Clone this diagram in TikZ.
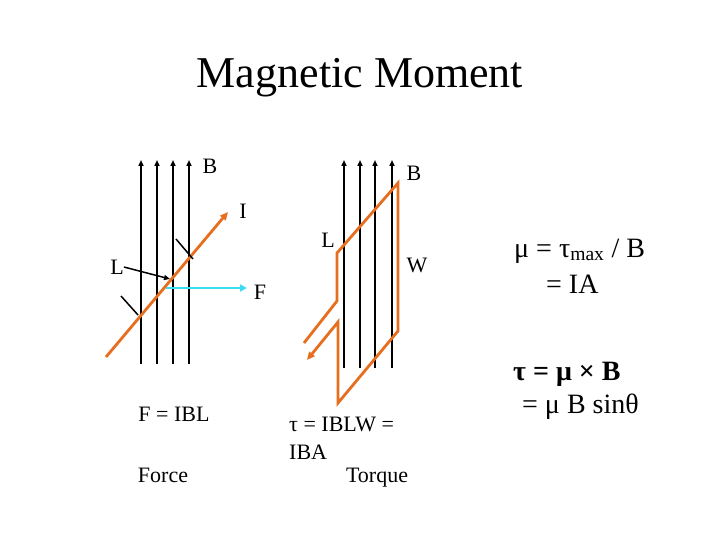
\documentclass[tikz,border=0pt]{standalone}
\usepackage{fontspec}
\setmainfont{Liberation Serif}
\usetikzlibrary{arrows.meta}
\definecolor{wire}{RGB}{230,110,30}
\definecolor{fcol}{RGB}{60,220,240}
\begin{document}
\begin{tikzpicture}[x=1pt,y=-1pt,
  fld/.style={line width=1.5pt,-{Triangle[length=6pt,width=5pt]}},
  wr/.style={wire,line width=2.8pt,line join=miter},
  lbl/.style={font=\fontsize{22}{24}\selectfont,inner sep=0pt},
  big/.style={font=\fontsize{28}{30}\selectfont,inner sep=0pt}]
\useasboundingbox (0,0) rectangle (720,540);
\node[font=\fontsize{44}{48}\selectfont] (title) at (360,78) {Magnetic Moment};
% left
\foreach \x/\n in {141/a,157/b,173/c,189/d}{
  \coordinate (l\n0) at (\x,364); \coordinate (l\n1) at (\x,160);
  \draw[fld] (l\n0) -- (l\n1);}
\coordinate (w0) at (106,357); \coordinate (w1) at (228,212);
\draw[wr,-{Triangle[length=8pt,width=7pt]}] (w0) -- (w1);
\coordinate (t1a) at (121,296); \coordinate (t1b) at (138,315);
\coordinate (t2a) at (176,239); \coordinate (t2b) at (193,259);
\draw[line width=1.5pt] (t1a) -- (t1b) (t2a) -- (t2b);
\node[lbl] (L1) at (117,267) {L};
\coordinate (Lt) at (170,279);
\draw[line width=1.5pt,-{Triangle[length=6pt,width=5pt]}] (L1.east) -- (Lt);
\coordinate (f0) at (166,288); \coordinate (f1) at (247,288);
\draw[fcol,line width=2.8pt,-{Triangle[length=7pt,width=7pt]}] (f0) -- (f1);
\node[lbl] (F) at (260,292) {F};
\node[lbl] (B1) at (210,166) {B};
\node[lbl] (I) at (243,211) {I};
% right
\foreach \x/\n in {344/a,360/b,375/c,392/d}{
  \coordinate (r\n0) at (\x,368); \coordinate (r\n1) at (\x,160);
  \draw[fld] (r\n0) -- (r\n1);}
\coordinate (p1) at (304,343); \coordinate (p2) at (337,301);
\coordinate (p3) at (337,253); \coordinate (p4) at (398,183);
\coordinate (p5) at (398,331); \coordinate (p6) at (338,403);
\coordinate (p7) at (338,322); \coordinate (p8) at (307,360);
\draw[wr,-{Triangle[length=8pt,width=7pt]}] (p1) -- (p2) -- (p3) -- (p4) -- (p5) -- (p6) -- (p7) -- (p8);
\node[lbl] (B2) at (414,173) {B};
\node[lbl] (L2) at (328,240) {L};
\node[lbl] (W) at (417,265) {W};
% texts
\node[lbl] (eq1) at (174,414) {F = IBL};
\node[lbl] (force) at (163,475) {Force};
\node[lbl,anchor=west] (eq2) at (289,424) {τ = IBLW =};
\node[lbl,anchor=west] (eq2b) at (289,452) {IBA};
\node[lbl] (torque) at (377,478) {Torque};
\node[big,anchor=west] (mu1) at (514,251) {μ = τ\textsubscript{max} / B};
\node[big,anchor=west] (mu2) at (546,284) {= IA};
\node[big,anchor=west] (tau1) at (513,374) {\textbf{τ = μ × B}};
\node[big,anchor=west] (tau2) at (522,407) {= μ B sinθ};
\end{tikzpicture}
\end{document}
